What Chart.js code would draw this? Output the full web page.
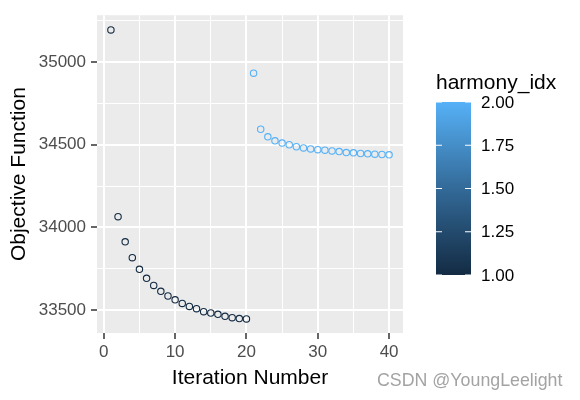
<!DOCTYPE html>
<html>
<head>
<meta charset="utf-8">
<script src="https://cdn.jsdelivr.net/npm/chart.js@4"></script>
<style>
  html, body { margin: 0; padding: 0; background: #ffffff; }
  #wrap { width: 580px; height: 400px; position: relative; }
</style>
</head>
<body>
<div id="wrap"><canvas id="harmonyChart"></canvas></div>
<script>
const iterations = [1, 2, 3, 4, 5, 6, 7, 8, 9, 10, 11, 12, 13, 14, 15, 16, 17, 18, 19, 20,
                    21, 22, 23, 24, 25, 26, 27, 28, 29, 30, 31, 32, 33, 34, 35, 36, 37, 38, 39, 40];
const objectiveValues = [35195, 34065, 33913, 33817, 33746, 33692, 33649, 33613, 33585, 33562,
                         33540, 33522, 33508, 33490, 33482, 33474, 33462, 33454, 33448, 33446,
                         34933, 34594, 34548, 34524, 34510, 34500, 34488, 34481, 34475, 34470,
                         34467, 34463, 34459, 34453, 34451, 34447, 34445, 34443, 34441, 34439];
const harmonyIdx = [1, 1, 1, 1, 1, 1, 1, 1, 1, 1, 1, 1, 1, 1, 1, 1, 1, 1, 1, 1,
                    2, 2, 2, 2, 2, 2, 2, 2, 2, 2, 2, 2, 2, 2, 2, 2, 2, 2, 2, 2];
const xTicks = [0, 10, 20, 30, 40];
const xMinorTicks = [5, 15, 25, 35];
const yTicks = [33500, 34000, 34500, 35000];
const yMinorTicks = [33750, 34250, 34750, 35250];
const legendTicks = [1.00, 1.25, 1.50, 1.75, 2.00];

const lowColor = [0x13, 0x2B, 0x43];
const highColor = [0x56, 0xB1, 0xF7];

function harmonyColor(v) {
    const t = (v - 1) / (2 - 1);
    const c = lowColor.map((lo, i) => Math.round(lo + (highColor[i] - lo) * t));
    return `rgb(${c[0]}, ${c[1]}, ${c[2]})`;
}

const fontFamily = '"Liberation Sans", Arial, sans-serif';

const panelBackground = {
    id: 'panelBackground',
    beforeDraw(chart) {
        const {ctx, chartArea} = chart;
        ctx.save();
        ctx.fillStyle = '#EBEBEB';
        ctx.fillRect(chartArea.left, chartArea.top, chartArea.right - chartArea.left, chartArea.bottom - chartArea.top);
        ctx.restore();
    }
};

const colorbarLegend = {
    id: 'colorbarLegend',
    afterDraw(chart) {
        const ctx = chart.ctx;
        const barLeft = 436, barRight = 471, barTop = 102, barBottom = 275;
        ctx.save();
        ctx.fillStyle = '#000000';
        ctx.font = '21px ' + fontFamily;
        ctx.textAlign = 'left';
        ctx.textBaseline = 'alphabetic';
        ctx.fillText('harmony_idx', 436, 89);

        const grad = ctx.createLinearGradient(0, barBottom, 0, barTop);
        grad.addColorStop(0, harmonyColor(1));
        grad.addColorStop(0.5, '#336A98');
        grad.addColorStop(1, harmonyColor(2));
        ctx.fillStyle = grad;
        ctx.fillRect(barLeft, barTop, barRight - barLeft, barBottom - barTop);

        ctx.strokeStyle = '#ffffff';
        ctx.lineWidth = 1;
        ctx.font = '17px ' + fontFamily;
        ctx.textBaseline = 'middle';
        legendTicks.forEach((v) => {
            const y = barBottom - (v - 1) * (barBottom - barTop);
            ctx.beginPath();
            ctx.moveTo(barLeft, y);
            ctx.lineTo(barLeft + 6, y);
            ctx.moveTo(barRight - 6, y);
            ctx.lineTo(barRight, y);
            ctx.stroke();
            ctx.fillStyle = '#000000';
            ctx.fillText(v.toFixed(2), 481, y + 1);
        });

        // watermark
        ctx.fillStyle = '#a3a3a3';
        ctx.font = '17.8px ' + fontFamily;
        ctx.textBaseline = 'middle';
        ctx.fillText('CSDN @YoungLeelight', 377, 381);
        ctx.restore();
    }
};

const points = iterations.map((it, i) => ({x: it, y: objectiveValues[i]}));

const ctx = document.getElementById('harmonyChart').getContext('2d');
new Chart(ctx, {
    type: 'scatter',
    data: {
        datasets: [{
            label: 'harmony_idx',
            data: points,
            pointStyle: 'circle',
            pointRadius: 3.2,
            pointBorderWidth: 1.1,
            pointBackgroundColor: 'rgba(0,0,0,0)',
            pointBorderColor: harmonyIdx.map(harmonyColor),
            pointHoverRadius: 3.2
        }]
    },
    options: {
        responsive: true,
        maintainAspectRatio: false,
        animation: false,
        devicePixelRatio: 1,
        layout: {
            padding: {top: 10, right: 177, left: 0, bottom: 0}
        },
        plugins: {
            legend: {display: false},
            tooltip: {enabled: false}
        },
        scales: {
            x: {
                type: 'linear',
                min: -0.95,
                max: 41.95,
                afterBuildTicks: (scale) => {
                    scale.ticks = xTicks.concat(xMinorTicks).sort((a, b) => a - b).map(v => ({value: v}));
                },
                afterFit: (scale) => { scale.height = 67; },
                border: {display: false},
                grid: {
                    color: '#ffffff',
                    lineWidth: (c) => xTicks.includes(c.tick.value) ? 2 : 1,
                    tickColor: (c) => xTicks.includes(c.tick.value) ? '#333333' : 'rgba(0,0,0,0)',
                    tickLength: 6,
                    tickWidth: 1.5
                },
                ticks: {
                    autoSkip: false,
                    maxRotation: 0,
                    padding: 3,
                    color: '#4D4D4D',
                    font: {family: fontFamily, size: 17},
                    callback: (v) => xTicks.includes(v) ? String(v) : ''
                },
                title: {
                    display: true,
                    text: 'Iteration Number',
                    color: '#000000',
                    font: {family: fontFamily, size: 21},
                    padding: {top: 0, bottom: 9}
                }
            },
            y: {
                type: 'linear',
                min: 33361,
                max: 35284,
                afterBuildTicks: (scale) => {
                    scale.ticks = yTicks.concat(yMinorTicks).sort((a, b) => a - b).map(v => ({value: v}));
                },
                afterFit: (scale) => { scale.width = 97; },
                border: {display: false},
                grid: {
                    color: '#ffffff',
                    lineWidth: (c) => yTicks.includes(c.tick.value) ? 2 : 1,
                    tickColor: (c) => yTicks.includes(c.tick.value) ? '#333333' : 'rgba(0,0,0,0)',
                    tickLength: 6,
                    tickWidth: 1.5
                },
                ticks: {
                    autoSkip: false,
                    padding: 5,
                    color: '#4D4D4D',
                    font: {family: fontFamily, size: 17},
                    callback: (v) => yTicks.includes(v) ? String(v) : ''
                },
                title: {
                    display: true,
                    text: 'Objective Function',
                    color: '#000000',
                    font: {family: fontFamily, size: 21},
                    padding: {top: 7, bottom: 0}
                }
            }
        }
    },
    plugins: [panelBackground, colorbarLegend]
});
</script>
</body>
</html>
